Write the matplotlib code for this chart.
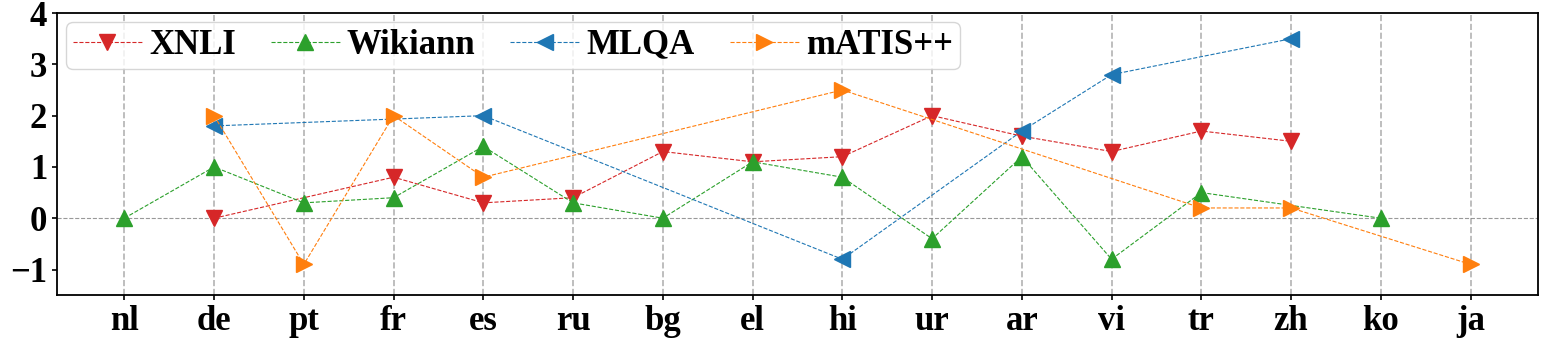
import matplotlib
matplotlib.use("Agg")
import matplotlib.pyplot as plt

plt.rcParams['font.family'] = ['Liberation Serif', 'DejaVu Serif']
plt.rcParams['font.weight'] = 'bold'
plt.rcParams['mathtext.default'] = 'regular'

categories = ['nl', 'de', 'pt', 'fr', 'es', 'ru', 'bg', 'el', 'hi', 'ur', 'ar', 'vi', 'tr', 'zh', 'ko', 'ja']

xnli_langs = ['de', 'fr', 'es', 'ru', 'bg', 'el', 'hi', 'ur', 'ar', 'vi', 'tr', 'zh']
xnli_vals = [0.0, 0.8, 0.3, 0.4, 1.3, 1.1, 1.2, 2.0, 1.6, 1.3, 1.7, 1.5]

wikiann_langs = ['nl', 'de', 'pt', 'fr', 'es', 'ru', 'bg', 'el', 'hi', 'ur', 'ar', 'vi', 'tr', 'ko']
wikiann_vals = [0.0, 1.0, 0.3, 0.4, 1.4, 0.3, 0.0, 1.1, 0.8, -0.4, 1.2, -0.8, 0.5, 0.0]

mlqa_langs = ['de', 'es', 'hi', 'ar', 'vi', 'zh']
mlqa_vals = [1.8, 2.0, -0.8, 1.7, 2.8, 3.5]

matis_langs = ['de', 'pt', 'fr', 'es', 'hi', 'tr', 'zh', 'ja']
matis_vals = [2.0, -0.9, 2.0, 0.8, 2.5, 0.2, 0.2, -0.9]

series = [
    ('XNLI', xnli_langs, xnli_vals, 'tab:red', 'v'),
    ('Wikiann', wikiann_langs, wikiann_vals, 'tab:green', '^'),
    ('MLQA', mlqa_langs, mlqa_vals, 'tab:blue', '<'),
    ('mATIS++', matis_langs, matis_vals, 'tab:orange', '>'),
]

fig = plt.figure(figsize=(15.41, 3.44), dpi=100)
ax = fig.add_axes([0.037, 0.142, 0.961, 0.820])

idx = {c: i for i, c in enumerate(categories)}
for name, langs, vals, color, marker in series:
    xs = [idx[l] for l in langs]
    ax.plot(xs, vals, linestyle='--', linewidth=0.8, color=color, marker=marker,
            markersize=11, label=name)

ax.axhline(0, color='gray', linestyle='--', linewidth=0.8, alpha=0.8, zorder=0)
ax.set_xticks(range(len(categories)))
ax.set_xticklabels(categories)
ax.xaxis.grid(True, linestyle='--', color='gray', linewidth=1.2, alpha=0.6)
ax.set_axisbelow(True)
ax.set_ylim(-1.5, 4)
ax.set_yticks([-1, 0, 1, 2, 3, 4])
ax.tick_params(axis='both', labelsize=25, width=1.2)
for lbl in ax.get_xticklabels() + ax.get_yticklabels():
    lbl.set_fontweight('bold')
for s in ax.spines.values():
    s.set_linewidth(1.3)

ax.legend(loc='upper left', ncol=4, prop={'size': 25, 'weight': 'bold'},
          columnspacing=1.0, handletextpad=0.2, borderpad=0.2,
          handlelength=2.0, borderaxespad=0.25, labelspacing=0.2)

fig.savefig('out.png', dpi=100)
